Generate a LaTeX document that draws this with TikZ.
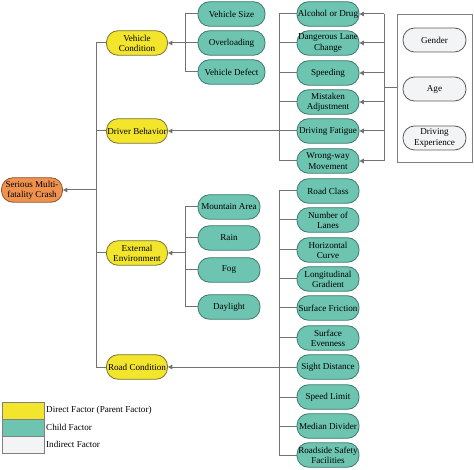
\documentclass[tikz,border=0pt]{standalone}
\usepackage{fontspec}
\setmainfont{Liberation Serif}
\usetikzlibrary{arrows.meta,calc}
\definecolor{cyel}{HTML}{F3E52C}
\definecolor{cyelb}{HTML}{7A7430}
\definecolor{cteal}{HTML}{6CC4B1}
\definecolor{ctealb}{HTML}{3E7A6E}
\definecolor{corg}{HTML}{F0924F}
\definecolor{corgb}{HTML}{8E5530}
\definecolor{cind}{HTML}{F3F4F6}
\definecolor{cindb}{HTML}{5A5A5A}
\definecolor{cline}{HTML}{727272}
\begin{document}
\begin{tikzpicture}[x=1pt,y=-1pt,font=\fontsize{9.1}{10.2}\selectfont,
  pill/.style={draw,line width=0.8pt,rounded corners=11.5pt,minimum height=24.5pt,inner sep=0.5pt,align=center,text=black},
  parent/.style={pill,fill=cyel,draw=cyelb,minimum width=61pt},
  child/.style={pill,fill=cteal,draw=ctealb,minimum width=62pt},
  vchild/.style={child,minimum width=67pt},
  rootf/.style={pill,fill=corg,draw=corgb,minimum width=61pt},
  indir/.style={pill,fill=cind,draw=cindb,minimum width=63pt,minimum height=24pt},
  conn/.style={draw=cline,line width=1pt},
  arr/.style={conn,-{Triangle[width=4.5pt,length=4.5pt]}},
  legbox/.style={draw=gray,line width=0.8pt,minimum width=42pt,minimum height=17pt,inner sep=0pt},
  legtxt/.style={anchor=west,inner sep=0pt}
]
\useasboundingbox (0,0) rectangle (474,470);
% root and parents
\node[rootf] (root) at (32,190) {Serious Multi-\\fatality Crash};
\node[parent] (vc) at (137,43) {Vehicle\\Condition};
\node[parent] (db) at (137,131) {Driver Behavior};
\node[parent] (ee) at (137,253) {External\\Environment};
\node[parent] (rc) at (137,367) {Road Condition};
% vehicle children
\node[vchild] (vs) at (231.5,14) {Vehicle Size};
\node[vchild] (ov) at (231.5,43) {Overloading};
\node[vchild] (vd) at (231.5,72) {Vehicle Defect};
% driver children
\node[child] (ad) at (328,14) {Alcohol or Drug};
\node[child] (dl) at (328,43) {Dangerous Lane\\Change};
\node[child] (sp) at (328,73) {Speeding};
\node[child] (ma) at (328,102) {Mistaken\\Adjustment};
\node[child] (df) at (328,131) {Driving Fatigue};
\node[child] (ww) at (328,161) {Wrong-way\\Movement};
% indirect box
\node[draw=gray,line width=0.8pt,minimum width=75pt,minimum height=148pt,inner sep=0pt] (ib) at (434.5,88) {};
\node[indir] (ge) at (434.5,40) {Gender};
\node[indir] (ag) at (434.5,89) {Age};
\node[indir] (dx) at (434.5,138) {Driving\\Experience};
% external children
\node[child] (ma2) at (229,207) {Mountain Area};
\node[child] (ra) at (229,238) {Rain};
\node[child] (fo) at (229,270) {Fog};
\node[child] (dy) at (229,307) {Daylight};
% road children
\node[child] (r1) at (328,191) {Road Class};
\node[child] (r2) at (328,220) {Number of\\Lanes};
\node[child] (r3) at (328,250) {Horizontal\\Curve};
\node[child] (r4) at (328,279) {Longitudinal\\Gradient};
\node[child] (r5) at (328,308) {Surface Friction};
\node[child] (r6) at (328,338) {Surface\\Evenness};
\node[child] (r7) at (328,367) {Sight Distance};
\node[child] (r8) at (328,397) {Speed Limit};
\node[child] (r9) at (328,426) {Median Divider};
\node[child] (r10) at (328,455) {Roadside Safety\\Facilities};
% coordinates
\coordinate (tr) at (96,190);
\coordinate (vb) at (185,43);
\coordinate (dbk) at (279,131);
\coordinate (rbk) at (384,88);
\coordinate (eb) at (185,253);
\coordinate (rdb) at (279,367);
% trunk
\draw[conn] (vc.west) -| (tr);
\draw[conn] (rc.west) -| (tr);
\draw[conn] (db.west) -- (db.west -| tr);
\draw[conn] (ee.west) -- (ee.west -| tr);
\draw[arr] (tr) -- (root.east);
% vehicle
\draw[conn] (vs.west) -| (vb);
\draw[conn] (vd.west) -| (vb);
\draw[arr] (ov.west) -- (vc.east);
% driver
\draw[conn] (ad.west) -| (dbk);
\draw[conn] (ww.west) -| (dbk);
\foreach \n in {dl,sp,ma} \draw[conn] (\n.west) -- (\n.west -| dbk);
\draw[arr] (df.west) -- (db.east);
% indirect to driver children
\draw[conn] (ib.west |- rbk) -- (rbk);
\draw[conn] (ad.east -| rbk) -- (ww.east -| rbk);
\foreach \n in {ad,dl,sp,ma,df,ww} \draw[arr] (\n.east -| rbk) -- (\n.east);
% external
\draw[conn] (ma2.west) -| (eb);
\draw[conn] (dy.west) -| (eb);
\foreach \n in {ra,fo} \draw[conn] (\n.west) -- (\n.west -| eb);
\draw[arr] (eb) -- (ee.east);
% road
\draw[conn] (r1.west) -| (rdb);
\draw[conn] (r10.west) -| (rdb);
\foreach \n in {r2,r3,r4,r5,r6,r8,r9} \draw[conn] (\n.west) -- (\n.west -| rdb);
\draw[arr] (r7.west) -- (rc.east);
% legend
\node[legbox,fill=cyel] (l1) at (23,410.5) {};
\node[legbox,fill=cteal] (l2) at (23,427.5) {};
\node[legbox,fill=cind] (l3) at (23,444.5) {};
\node[legtxt] (t1) at (46,410.5) {Direct Factor (Parent Factor)};
\node[legtxt] (t2) at (46,427.5) {Child Factor};
\node[legtxt] (t3) at (46,444.5) {Indirect Factor};
\end{tikzpicture}
\end{document}
